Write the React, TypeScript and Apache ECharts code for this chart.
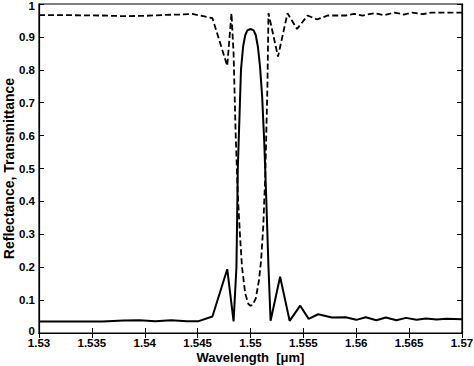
import React, { useEffect, useRef } from "react";
import * as echarts from "echarts";

// Transmittance (solid)
const transWl = [
  1.53, 1.532, 1.534, 1.536, 1.538, 1.5395, 1.541, 1.5425, 1.544, 1.5451,
  1.5464, 1.5478, 1.5484, 1.54867, 1.5488, 1.549, 1.5491, 1.5493, 1.5495, 1.5497,
  1.55, 1.5503, 1.5505, 1.5507, 1.5509, 1.5511, 1.5513, 1.5515, 1.5517, 1.5519,
  1.5528, 1.5537, 1.5547, 1.5555, 1.5564, 1.5577, 1.559, 1.56, 1.5609, 1.5619,
  1.5628, 1.5638, 1.5647, 1.5657, 1.5666, 1.5676, 1.5685, 1.57,
];
const transVal = [
  0.035, 0.035, 0.035, 0.035, 0.038, 0.039, 0.036, 0.039, 0.036, 0.036,
  0.05, 0.194, 0.035, 0.2, 0.5, 0.7, 0.8, 0.87, 0.905, 0.92,
  0.924, 0.92, 0.905, 0.87, 0.81, 0.72, 0.58, 0.4, 0.2, 0.037,
  0.171, 0.037, 0.083, 0.043, 0.057, 0.047, 0.048, 0.04, 0.048, 0.039,
  0.047, 0.039, 0.046, 0.04, 0.044, 0.041, 0.043, 0.042,
];

// Reflectance (dashed)
const reflWl = [
  1.53, 1.533, 1.536, 1.538, 1.54, 1.542, 1.5435, 1.5445, 1.5464, 1.5478,
  1.5482, 1.5484, 1.5486, 1.5488, 1.549, 1.5492, 1.5495, 1.5498, 1.55, 1.5502,
  1.5505, 1.5508, 1.551, 1.5512, 1.5514, 1.5516, 1.5517, 1.5526, 1.5535, 1.5544,
  1.5554, 1.5563, 1.5573, 1.559, 1.5598, 1.5606, 1.5617, 1.5626, 1.5636, 1.5645,
  1.5653, 1.5663, 1.5671, 1.5682, 1.57,
];
const reflVal = [
  0.966, 0.966, 0.965, 0.963, 0.964, 0.967, 0.968, 0.97, 0.957, 0.812,
  0.972, 0.85, 0.6, 0.42, 0.3, 0.2, 0.12, 0.088, 0.083, 0.085,
  0.105, 0.16, 0.22, 0.32, 0.48, 0.75, 0.972, 0.84, 0.972, 0.924,
  0.965, 0.953, 0.965, 0.965, 0.97, 0.965, 0.972, 0.966, 0.974, 0.968,
  0.974, 0.969, 0.974, 0.974, 0.974,
];

const X_MIN = 1.53;
const X_MAX = 1.57;
const X_STEP = 0.005;
const Y_MIN = 0;
const Y_MAX = 1;
const Y_STEP = 0.1;

export default function App() {
  const ref = useRef<HTMLDivElement>(null);
  useEffect(() => {
    const chart = echarts.init(ref.current!, null, { renderer: "svg" });
    const font = "'Liberation Sans', Arial, Helvetica, sans-serif";
    const line = { show: true, lineStyle: { color: "#000", width: 1.2 } };
    const tick = { show: true, inside: true, length: 5, lineStyle: { color: "#000", width: 1 } };
    const lbl = { fontFamily: font, fontWeight: "bold" as const, fontSize: 11.5, color: "#000" };
    chart.setOption({
      animation: false,
      backgroundColor: "#fff",
      grid: {
        left: 39, right: 12, top: 4, bottom: 33, containLabel: false, outerBoundsMode: "none",
        show: true, borderColor: "#000", borderWidth: 1.2,
      },
      xAxis: [
        {
          type: "value", min: X_MIN, max: X_MAX, interval: X_STEP, position: "bottom",
          axisLine: line, axisTick: tick, splitLine: { show: false },
          axisLabel: { ...lbl, margin: 4, lineHeight: 12, formatter: (v: number) => String(Math.round(v * 1000) / 1000) },
          name: "Wavelength  [\u03bcm]", nameLocation: "middle", nameGap: 17, nameMoveOverlap: false,
          nameTextStyle: { fontFamily: font, fontWeight: "bold", fontSize: 13, color: "#000", lineHeight: 14 },
        },
        {
          type: "value", min: X_MIN, max: X_MAX, interval: X_STEP, position: "top",
          axisLine: line, axisTick: tick, splitLine: { show: false }, axisLabel: { show: false },
        },
      ],
      yAxis: [
        {
          type: "value", min: Y_MIN, max: Y_MAX, interval: Y_STEP, position: "left",
          axisLine: line, axisTick: tick, splitLine: { show: false },
          axisLabel: {
            ...lbl, margin: 4, lineHeight: 12,
            formatter: (v: number) => {
              const s = String(Math.round(v * 10) / 10);
              if (v >= Y_MAX) return "{t|" + s + "}";
              if (v <= Y_MIN) return "{b|" + s + "}";
              return s;
            },
            rich: {
              t: { ...lbl, lineHeight: 12, padding: [4, 0, 0, 0] },
              b: { ...lbl, lineHeight: 12, padding: [0, 0, 4, 0] },
            },
          },
          name: "Reflectance, Transmittance", nameLocation: "middle", nameGap: 23, nameMoveOverlap: false,
          nameTextStyle: { fontFamily: font, fontWeight: "bold", fontSize: 14, color: "#000" },
        },
        {
          type: "value", min: Y_MIN, max: Y_MAX, interval: Y_STEP, position: "right",
          axisLine: line, axisTick: tick, splitLine: { show: false }, axisLabel: { show: false },
        },
      ],
      series: [
        {
          type: "line", xAxisIndex: 0, yAxisIndex: 0, symbol: "none",
          data: transWl.map((w, i) => [w, transVal[i]]),
          lineStyle: { color: "#000", width: 2 },
        },
        {
          type: "line", xAxisIndex: 0, yAxisIndex: 0, symbol: "none",
          data: reflWl.map((w, i) => [w, reflVal[i]]),
          lineStyle: { color: "#000", width: 1.8, type: [6, 3] },
        },
      ],
    });
    return () => chart.dispose();
  }, []);
  return (
    <div
      ref={ref}
      style={{ position: "fixed", left: 0, top: 0, width: 474, height: 366, background: "#fff" }}
    />
  );
}
